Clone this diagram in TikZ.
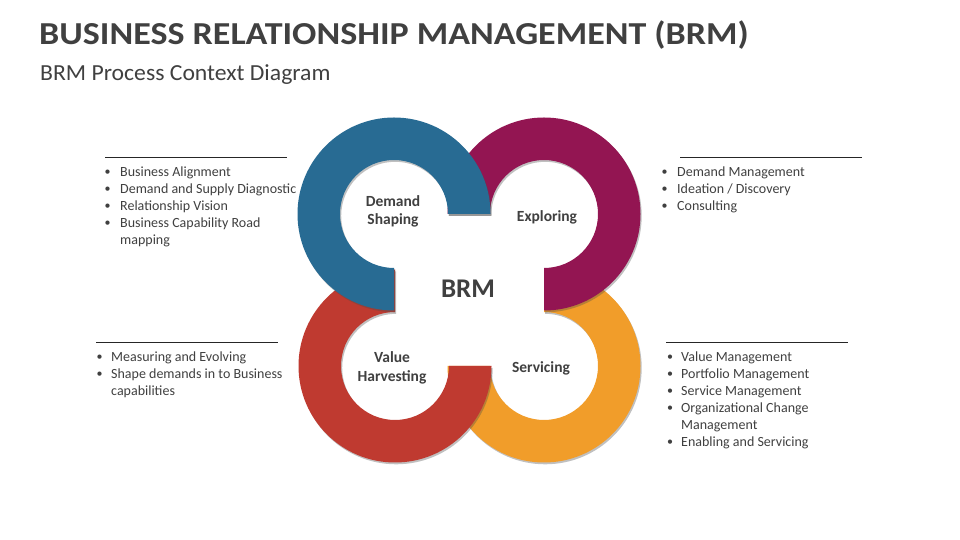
\documentclass[tikz,border=0pt]{standalone}
\usepackage{graphicx}
\usepackage{fontspec}
\setmainfont{Carlito}
\usetikzlibrary{calc,shadows}
\definecolor{txt}{HTML}{404040}
\definecolor{cblue}{HTML}{286B93}
\definecolor{cpurple}{HTML}{931552}
\definecolor{cred}{HTML}{BF3A30}
\definecolor{corange}{HTML}{F19D2A}
\def\ringR{96.5}
\def\ringr{54}
\newcommand{\brmring}[4]{%
  \fill[#4, ringshadow] ($(#1)+(#2:\ringR)$) arc[start angle=#2, end angle=#3, radius=\ringR]
    -- ($(#1)+(#3:\ringr)$) arc[start angle=#3, end angle=#2, radius=\ringr] -- cycle;}
\tikzset{
  ringshadow/.style={drop shadow={shadow xshift=1.2pt, shadow yshift=-1.8pt, opacity=0.35, fill=black!70}},
  title/.style={anchor=base west, inner sep=0pt, text=txt, font=\fontsize{32}{38}\selectfont\bfseries},
  subtitle/.style={anchor=base west, inner sep=0pt, text=txt, font=\fontsize{23}{27}\selectfont},
  bul/.style={anchor=base, inner sep=0pt, text=txt, font=\fontsize{12}{16}\selectfont},
  item/.style={anchor=base west, inner sep=0pt, text=txt, font=\fontsize{14}{17}\selectfont},
  sep/.style={draw=black!85, line width=0.8pt},
  ringlabel/.style={anchor=base, inner sep=0pt, text=txt, font=\fontsize{15.5}{18}\selectfont\bfseries},
  centerlabel/.style={anchor=base, inner sep=0pt, text=txt, font=\fontsize{27}{32}\selectfont\bfseries},
}
\begin{document}
\begin{tikzpicture}[x=1pt,y=1pt]
\useasboundingbox (0,0) rectangle (960,540);
\fill[white] (0,0) rectangle (960,540);

% titles
\node[title] (t) at (39,495) {\scalebox{1.125}[1]{BUSINESS RELATIONSHIP MANAGEMENT (BRM)}};
\node[subtitle] (st) at (40,459) {\scalebox{1.03}[1]{BRM Process Context Diagram}};

% ring centres
\coordinate (cB) at (394,326);
\coordinate (cP) at (544,326);
\coordinate (cR) at (395,174);
\coordinate (cO) at (544,174);

% rings (back to front)
\brmring{cO}{180}{450}{corange}
\brmring{cP}{-90}{180}{cpurple}
\brmring{cR}{90}{360}{cred}
\brmring{cB}{0}{270}{cblue}

% ring labels
\node[ringlabel] (ds1) at (393,333) {Demand};
\node[ringlabel] (ds2) at (393,315) {Shaping};
\node[ringlabel] (ex) at (547,318) {Exploring};
\node[ringlabel] (vh1) at (392,177) {Value};
\node[ringlabel] (vh2) at (392,158) {Harvesting};
\node[ringlabel] (sv) at (541,167) {Servicing};
\node[centerlabel] (brm) at (468,242) {BRM};

% separator lines
\coordinate (l1a) at (105,383); \coordinate (l1b) at (287,383);
\coordinate (l2a) at (680,383); \coordinate (l2b) at (862,383);
\coordinate (l3a) at (96,198);  \coordinate (l3b) at (278,198);
\coordinate (l4a) at (666,198); \coordinate (l4b) at (848,198);
\draw[sep] (l1a) -- (l1b);
\draw[sep] (l2a) -- (l2b);
\draw[sep] (l3a) -- (l3b);
\draw[sep] (l4a) -- (l4b);

% top-left list
\node[bul] (a1b) at (107.5,364) {\textbullet};
\node[item] (a1) at (120,363) {Business Alignment};
\node[bul] (a2b) at (107.5,347) {\textbullet};
\node[item] (a2) at (120,346) {Demand and Supply Diagnostic};
\node[bul] (a3b) at (107.5,330) {\textbullet};
\node[item] (a3) at (120,329) {Relationship Vision};
\node[bul] (a4b) at (107.5,313) {\textbullet};
\node[item] (a4) at (120,312) {Business Capability Road};
\node[item] (a5) at (120,295) {mapping};

% top-right list
\node[bul] (b1b) at (664.5,364) {\textbullet};
\node[item] (b1) at (677,363) {Demand Management};
\node[bul] (b2b) at (664.5,347) {\textbullet};
\node[item] (b2) at (677,346) {Ideation / Discovery};
\node[bul] (b3b) at (664.5,330) {\textbullet};
\node[item] (b3) at (677,329) {Consulting};

% bottom-left list
\node[bul] (c1b) at (99.5,179) {\textbullet};
\node[item] (c1) at (111,178) {Measuring and Evolving};
\node[bul] (c2b) at (99.5,162) {\textbullet};
\node[item] (c2) at (111,161) {Shape demands in to Business};
\node[item] (c3) at (111,144) {capabilities};

% bottom-right list
\node[bul] (d1b) at (670,179) {\textbullet};
\node[item] (d1) at (681,178) {Value Management};
\node[bul] (d2b) at (670,162) {\textbullet};
\node[item] (d2) at (681,161) {Portfolio Management};
\node[bul] (d3b) at (670,145) {\textbullet};
\node[item] (d3) at (681,144) {Service Management};
\node[bul] (d4b) at (670,128) {\textbullet};
\node[item] (d4) at (681,127) {Organizational Change};
\node[item] (d5) at (681,110) {Management};
\node[bul] (d6b) at (670,94) {\textbullet};
\node[item] (d6) at (681,93) {Enabling and Servicing};
\end{tikzpicture}
\end{document}
